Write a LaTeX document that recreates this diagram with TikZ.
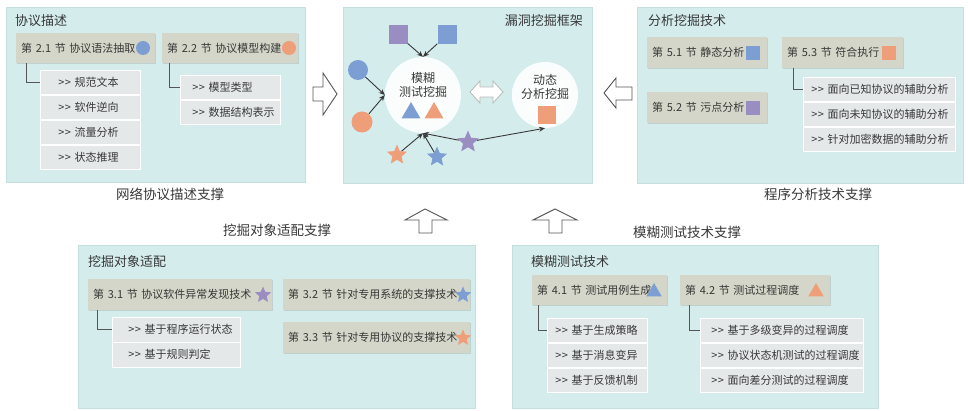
\documentclass[tikz,border=0pt]{standalone}
\usepackage{fontspec}
\setmainfont{Noto Sans CJK SC}
\usetikzlibrary{shapes.geometric,arrows.meta,shadows}
\definecolor{panel}{HTML}{D4ECEC}
\definecolor{panelb}{HTML}{C3DFDF}
\definecolor{hdr}{HTML}{D3D6C8}
\definecolor{itm}{HTML}{E5E8E9}
\definecolor{cblue}{HTML}{7C9ED2}
\definecolor{corange}{HTML}{EE9E78}
\definecolor{cpurple}{HTML}{9A8DC2}
\definecolor{txt}{HTML}{383838}
\definecolor{hollow}{HTML}{555555}
\newcommand{\gtgt}{>\kern0.4pt>}
\begin{document}
\begin{tikzpicture}[x=1pt,y=-1pt,
  panelbox/.style={draw=panelb, fill=panel, line width=1.2pt, anchor=north west, inner sep=0},
  ttl/.style={anchor=west, text=txt, font=\fontsize{13}{15}\selectfont, inner sep=0},
  captxt/.style={text=txt, font=\fontsize{13.5}{16}\selectfont, inner sep=0},
  hdrbox/.style={fill=hdr, anchor=north west, minimum height=30, inner xsep=5, inner ysep=0, align=left, text=txt, font=\fontsize{11}{13}\selectfont, drop shadow={shadow xshift=1.2pt, shadow yshift=-1.2pt, opacity=0.25, fill=gray}},
  itembox/.style={fill=itm, draw=white, line width=0.6pt, anchor=north west, minimum height=24, inner ysep=0, align=left, text=txt, font=\fontsize{11}{13}\selectfont, drop shadow={shadow xshift=1pt, shadow yshift=-1pt, opacity=0.2, fill=gray}},
  bracket/.style={draw=hollow, line width=0.9pt},
  hollowarrow/.style={draw=hollow, line width=0.9pt, fill=white},
  conn/.style={draw=txt, line width=0.9pt, -{Stealth[length=6pt,width=5pt]}},
  bigcirc/.style={circle, inner sep=0, shading=radial, inner color=white, outer color=white!88!panel},
  ctext/.style={align=center, text=txt, font=\fontsize{12}{14}\selectfont, inner sep=0},
  sqn/.style={rectangle, inner sep=0, minimum size=#1},
  dotn/.style={circle, inner sep=0, minimum size=#1},
  trin/.style={regular polygon, regular polygon sides=3, inner sep=0, minimum size=#1},
  starn/.style={star, star points=5, star point ratio=2.2, inner sep=0, minimum size=#1}
]
\useasboundingbox (0,0) rectangle (968,411);

% ---------------- top-left panel ----------------
\node[panelbox, minimum width=299, minimum height=175] (p1) at (6,7) {};
\node[ttl] (t1) at (15,21) {协议描述};
\node[captxt] (c1) at (170,194) {网络协议描述支撑};
\node[hdrbox, text width=129] (h21) at (16,33) {第~2.1~节~协议语法抽取};
\node[dotn=14, fill=cblue] (h21i) at (143,48) {};
\node[hdrbox, text width=126] (h22) at (162,33) {第~2.2~节~协议模型构建};
\node[dotn=14, fill=corange] (h22i) at (289,48) {};
\node[itembox, text width=64, inner xsep=18] (i11) at (40,70) {\gtgt~规范文本};
\node[itembox, text width=64, inner xsep=18] (i12) at (40,95) {\gtgt~软件逆向};
\node[itembox, text width=64, inner xsep=18] (i13) at (40,120) {\gtgt~流量分析};
\node[itembox, text width=64, inner xsep=18] (i14) at (40,145) {\gtgt~状态推理};
\node[itembox, text width=76, inner xsep=12] (i21) at (180,75) {\gtgt~模型类型};
\node[itembox, text width=76, inner xsep=12] (i22) at (180,100) {\gtgt~数据结构表示};
\draw[bracket] ([xshift=10pt]h21.south west) |- (i11.west);
\draw[bracket] ([xshift=7pt]h22.south west) |- (i21.west);

% ---------------- middle panel ----------------
\node[panelbox, minimum width=249, minimum height=176] (p2) at (343,7) {};
\node[ttl, anchor=east] (t2) at (583,21) {漏洞挖掘框架};
\node[bigcirc, minimum size=76] (fz) at (423,95) {};
\node[ctext] (fzt) at (423,85) {模糊\\测试挖掘};
\node[trin=22, fill=cblue] (tr1) at (411,113) {};
\node[trin=22, fill=corange] (tr2) at (434,113) {};
\node[bigcirc, minimum size=66] (dy) at (545,95) {};
\node[ctext] (dyt) at (545,87) {动态\\分析挖掘};
\node[sqn=18, fill=corange] (dysq) at (547,115) {};
\node[sqn=19, fill=cpurple] (sq1) at (398,35) {};
\node[sqn=19, fill=cblue] (sq2) at (447,35) {};
\node[dotn=20, fill=cblue] (ci1) at (358,70) {};
\node[dotn=21, fill=corange] (ci2) at (362,122) {};
\node[starn=21, fill=corange] (st1) at (397,155) {};
\node[starn=21, fill=cblue] (st2) at (437,157) {};
\node[starn=23, fill=cpurple] (st3) at (468,142) {};
\draw[conn] (sq1) -- (fz.north);
\draw[conn] (sq2) -- (fz.north);
\draw[conn] (ci1) -- (fz.west);
\draw[conn] (ci2) -- (fz.west);
\draw[conn] (st1) -- (fz.south);
\draw[conn] (st2) -- (fz.south);
\draw[conn] (st3) -- (fz.south);
\draw[conn] (st3) -- (dy.south);
\draw[draw=gray!55, line width=0.8pt, fill=white] (470,92) -- (480,81) -- (480,87) -- (493,87) -- (493,81) -- (503,92) -- (493,103) -- (493,97) -- (480,97) -- (480,103) -- cycle;

% ---------------- hollow arrows ----------------
\draw[hollowarrow] (313,87) -- (323,87) -- (323,73) -- (337,94) -- (323,115) -- (323,101) -- (313,101) -- cycle;
\draw[hollowarrow] (632,87) -- (616,87) -- (616,78) -- (604,93) -- (616,108) -- (616,100) -- (632,100) -- cycle;
\draw[hollowarrow] (419,233) -- (419,220) -- (405,220) -- (425,209) -- (447,220) -- (432,220) -- (432,233) -- cycle;
\draw[hollowarrow] (549,233) -- (549,220) -- (533,220) -- (555,209) -- (577,220) -- (562,220) -- (562,233) -- cycle;

% ---------------- top-right panel ----------------
\node[panelbox, minimum width=326, minimum height=176] (p3) at (637,7) {};
\node[ttl] (t3) at (648,21) {分析挖掘技术};
\node[captxt] (c3) at (818,194) {程序分析技术支撑};
\node[hdrbox, text width=110, minimum height=31] (h51) at (647,37) {第~5.1~节~静态分析};
\node[sqn=14, fill=cblue] (h51i) at (753,53) {};
\node[hdrbox, text width=110, minimum height=31] (h52) at (647,92) {第~5.2~节~污点分析};
\node[sqn=14, fill=cpurple] (h52i) at (753,108) {};
\node[hdrbox, text width=111, minimum height=31] (h53) at (782,37) {第~5.3~节~符合执行};
\node[sqn=14, fill=corange] (h53i) at (889,53) {};
\node[itembox, text width=136, inner xsep=8] (i51) at (803,77) {\gtgt~面向已知协议的辅助分析};
\node[itembox, text width=136, inner xsep=8] (i52) at (803,102) {\gtgt~面向未知协议的辅助分析};
\node[itembox, text width=136, inner xsep=8] (i53) at (803,127) {\gtgt~针对加密数据的辅助分析};
\draw[bracket] ([xshift=11pt]h53.south west) |- (i51.west);

% ---------------- bottom-left panel ----------------
\node[captxt] (c4) at (277,230) {挖掘对象适配支撑};
\node[panelbox, minimum width=397, minimum height=163] (p4) at (78,245) {};
\node[ttl] (t4) at (88,262) {挖掘对象适配};
\node[hdrbox, text width=174, minimum height=31] (h31) at (88,279) {第~3.1~节~协议软件异常发现技术};
\node[starn=17, fill=cpurple] (h31i) at (263,295) {};
\node[hdrbox, text width=177, minimum height=31] (h32) at (283,279) {第~3.2~节~针对专用系统的支撑技术};
\node[starn=17, fill=cblue] (h32i) at (463,295) {};
\node[hdrbox, text width=177, minimum height=31] (h33) at (283,322) {第~3.3~节~针对专用协议的支撑技术};
\node[starn=17, fill=corange] (h33i) at (463,338) {};
\node[itembox, text width=96, inner xsep=16, minimum height=25] (i31) at (112,317) {\gtgt~基于程序运行状态};
\node[itembox, text width=96, inner xsep=16, minimum height=25] (i32) at (112,342) {\gtgt~基于规则判定};
\draw[bracket] ([xshift=9pt]h31.south west) |- (i31.west);

% ---------------- bottom-right panel ----------------
\node[captxt] (c5) at (687,232) {模糊测试技术支撑};
\node[panelbox, minimum width=366, minimum height=163] (p5) at (512,245) {};
\node[ttl] (t5) at (531,262) {模糊测试技术};
\node[hdrbox, text width=125] (h41) at (532,275) {第~4.1~节~测试用例生成};
\node[trin=18, fill=cblue] (h41i) at (654,292) {};
\node[hdrbox, text width=140] (h42) at (680,275) {第~4.2~节~测试过程调度};
\node[trin=18, fill=corange] (h42i) at (816,292) {};
\node[itembox, text width=84, inner xsep=8] (i41) at (547,318) {\gtgt~基于生成策略};
\node[itembox, text width=84, inner xsep=8] (i42) at (547,343) {\gtgt~基于消息变异};
\node[itembox, text width=84, inner xsep=8] (i43) at (547,368) {\gtgt~基于反馈机制};
\node[itembox, text width=141, inner xsep=11] (i44) at (700,318) {\gtgt~基于多级变异的过程调度};
\node[itembox, text width=141, inner xsep=11] (i45) at (700,343) {\gtgt~协议状态机测试的过程调度};
\node[itembox, text width=141, inner xsep=11] (i46) at (700,368) {\gtgt~面向差分测试的过程调度};
\draw[bracket] ([xshift=6pt]h41.south west) |- (i41.west);
\draw[bracket] ([xshift=9pt]h42.south west) |- (i44.west);
\end{tikzpicture}
\end{document}
